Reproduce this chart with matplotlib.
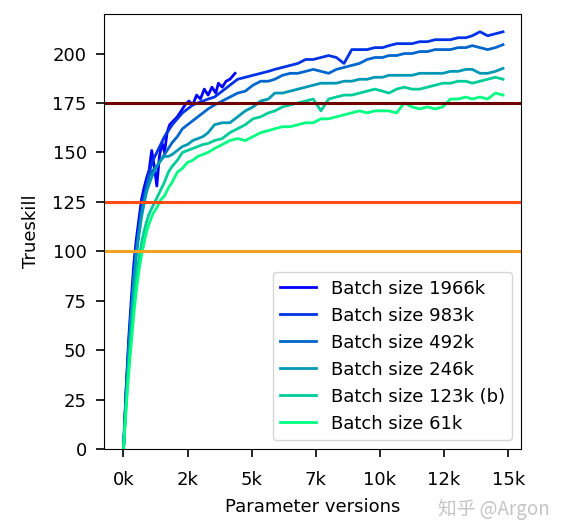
import matplotlib
matplotlib.use("Agg")
import matplotlib.pyplot as plt
import numpy as np

# parameter versions, in thousands
versions = [0, 0.1, 0.2, 0.3, 0.4, 0.5, 0.6, 0.7, 0.8, 0.9, 1.0, 1.15, 1.3, 1.45, 1.6, 1.75, 1.9,
            2.1, 2.3, 2.5, 2.7, 2.9, 3.1, 3.3, 3.55, 3.85, 4.15,
            4.45, 4.75, 5.05, 5.35, 5.65, 5.9, 6.2, 6.5, 6.8, 7.1, 7.4, 7.7, 8.0, 8.3, 8.6, 8.9,
            9.2, 9.5, 9.8, 10.1, 10.35, 10.65, 10.95, 11.25, 11.55, 11.85, 12.15, 12.45, 12.75,
            13.05, 13.35, 13.6, 13.9, 14.2, 14.5, 14.8]

versions_1966k = [0, 0.1, 0.2, 0.3, 0.4, 0.5, 0.6, 0.7, 0.8, 0.9, 1.0, 1.1, 1.2, 1.3, 1.4, 1.5,
                  1.6, 1.7, 1.8, 1.95, 2.1, 2.25, 2.4, 2.55, 2.7, 2.85, 3.0, 3.15, 3.3, 3.45,
                  3.6, 3.7, 3.85, 4.0, 4.15, 4.35]

ts_1966k = [0, 30, 55, 75, 93, 106, 116, 126, 132, 137, 141, 151, 143, 133, 148, 155,
            150, 160, 164, 166, 168, 171, 174, 176, 174, 179, 177, 182, 179, 183,
            180, 185, 183, 186, 187, 190]

ts_983k = [0, 28, 52, 70, 88, 102, 112, 122, 128, 134, 140, 146, 150, 154, 158, 161, 164,
           167, 170, 172, 174, 175, 176, 177, 178, 181, 184,
           187, 188, 189, 190, 191, 192, 193, 194, 195, 197, 197, 198, 199, 198, 195, 202,
           202, 202, 203, 203, 204, 205, 205, 205, 206, 206, 207, 207, 207, 208,
           208, 209, 211, 209, 210, 211]

ts_492k = [0, 27, 50, 69, 86, 100, 110, 120, 126, 132, 138, 141, 143, 146, 149, 152, 155,
           158, 162, 164, 166, 168, 170, 172, 174, 176, 178,
           180, 181, 184, 186, 186, 187, 189, 190, 190, 191, 192, 191, 190, 192, 193, 194,
           195, 197, 198, 198, 199, 199, 200, 200, 201, 201, 202, 202, 202, 203,
           203, 204, 203, 202, 203, 204.5]

ts_246k = [0, 25, 48, 66, 84, 98, 108, 117, 124, 130, 134, 139, 143, 146, 148, 148, 149,
           151, 153, 154, 156, 157, 158, 160, 164, 165, 165,
           168, 171, 173, 176, 177, 180, 180, 181, 182, 183, 184, 185, 185, 185, 186, 186,
           187, 187, 188, 188, 189, 189, 189, 189, 190, 190, 190, 190, 191, 191,
           192, 192, 190, 190, 191, 192.5]

ts_123k = [0, 22, 42, 58, 74, 87, 96, 104, 110, 115, 119, 123, 127, 131, 135, 140, 143,
           146, 150, 151, 152, 153, 154, 154.5, 156, 157, 160,
           162, 164, 167, 168, 170, 171, 173, 174, 175, 176, 177, 171, 177, 178, 179, 179,
           180, 181, 182, 181, 180, 182, 183, 182, 182, 183, 184, 185, 185, 186,
           186, 185, 186, 187, 188, 187]

ts_61k = [0, 20, 38, 53, 68, 80, 90, 98, 104, 110, 114, 119, 122, 126, 128, 132, 135,
          140, 142, 145, 146, 148, 149, 150, 152, 154, 156,
          157, 156, 158, 160, 161, 162, 163, 163, 164, 165, 165, 167, 167, 168, 169, 170,
          171, 170, 171, 171, 171, 170, 175, 173, 172, 173, 172, 173, 177, 177,
          178, 177, 178, 177, 180, 179]

labels = ["Batch size 1966k", "Batch size 983k", "Batch size 492k",
          "Batch size 246k", "Batch size 123k (b)", "Batch size 61k"]

ref_levels = [175, 125, 100]
ref_colors = ["#700000", "#ff4a14", "#f5a21e"]

xtick_pos = [0, 2.5, 5, 7.5, 10, 12.5, 15]
xtick_labels = ["0k", "2k", "5k", "7k", "10k", "12k", "15k"]

plt.rcParams['font.size'] = 13

fig = plt.figure(figsize=(5.66, 5.32), dpi=100)
ax = fig.add_axes([104 / 566, 1 - 449 / 532, (521 - 104) / 566, (449 - 14) / 532])

colors = plt.cm.winter(np.linspace(0, 1, 6))
ax.plot(versions_1966k, ts_1966k, color=colors[0], lw=2, label=labels[0])
series = [ts_983k, ts_492k, ts_246k, ts_123k, ts_61k]
for i, ys in enumerate(series):
    ax.plot(versions, ys, color=colors[i + 1], lw=2, label=labels[i + 1])

for lvl, c in zip(ref_levels, ref_colors):
    ax.axhline(lvl, color=c, lw=2.2)

ax.set_xlim(-0.76, 15.5)
ax.set_ylim(0, 220)
ax.set_xticks(xtick_pos)
ax.set_xticklabels(xtick_labels)
ax.set_yticks([0, 25, 50, 75, 100, 125, 150, 175, 200])
ax.tick_params(length=5.5, width=1.2)
ax.tick_params(axis="y", pad=7)
ax.tick_params(axis="x", pad=10)
ax.set_xlabel("Parameter versions", labelpad=7)
ax.set_ylabel("Trueskill", labelpad=9)
ax.legend(loc="lower right", fontsize=13)

fig.text(0.972, 0.043, "知乎 @Argon", color="#c4c4c4", fontsize=13.5, ha="right",
         va="center", family=["Noto Sans CJK SC", "DejaVu Sans"])

fig.savefig("out.png", dpi=100)
